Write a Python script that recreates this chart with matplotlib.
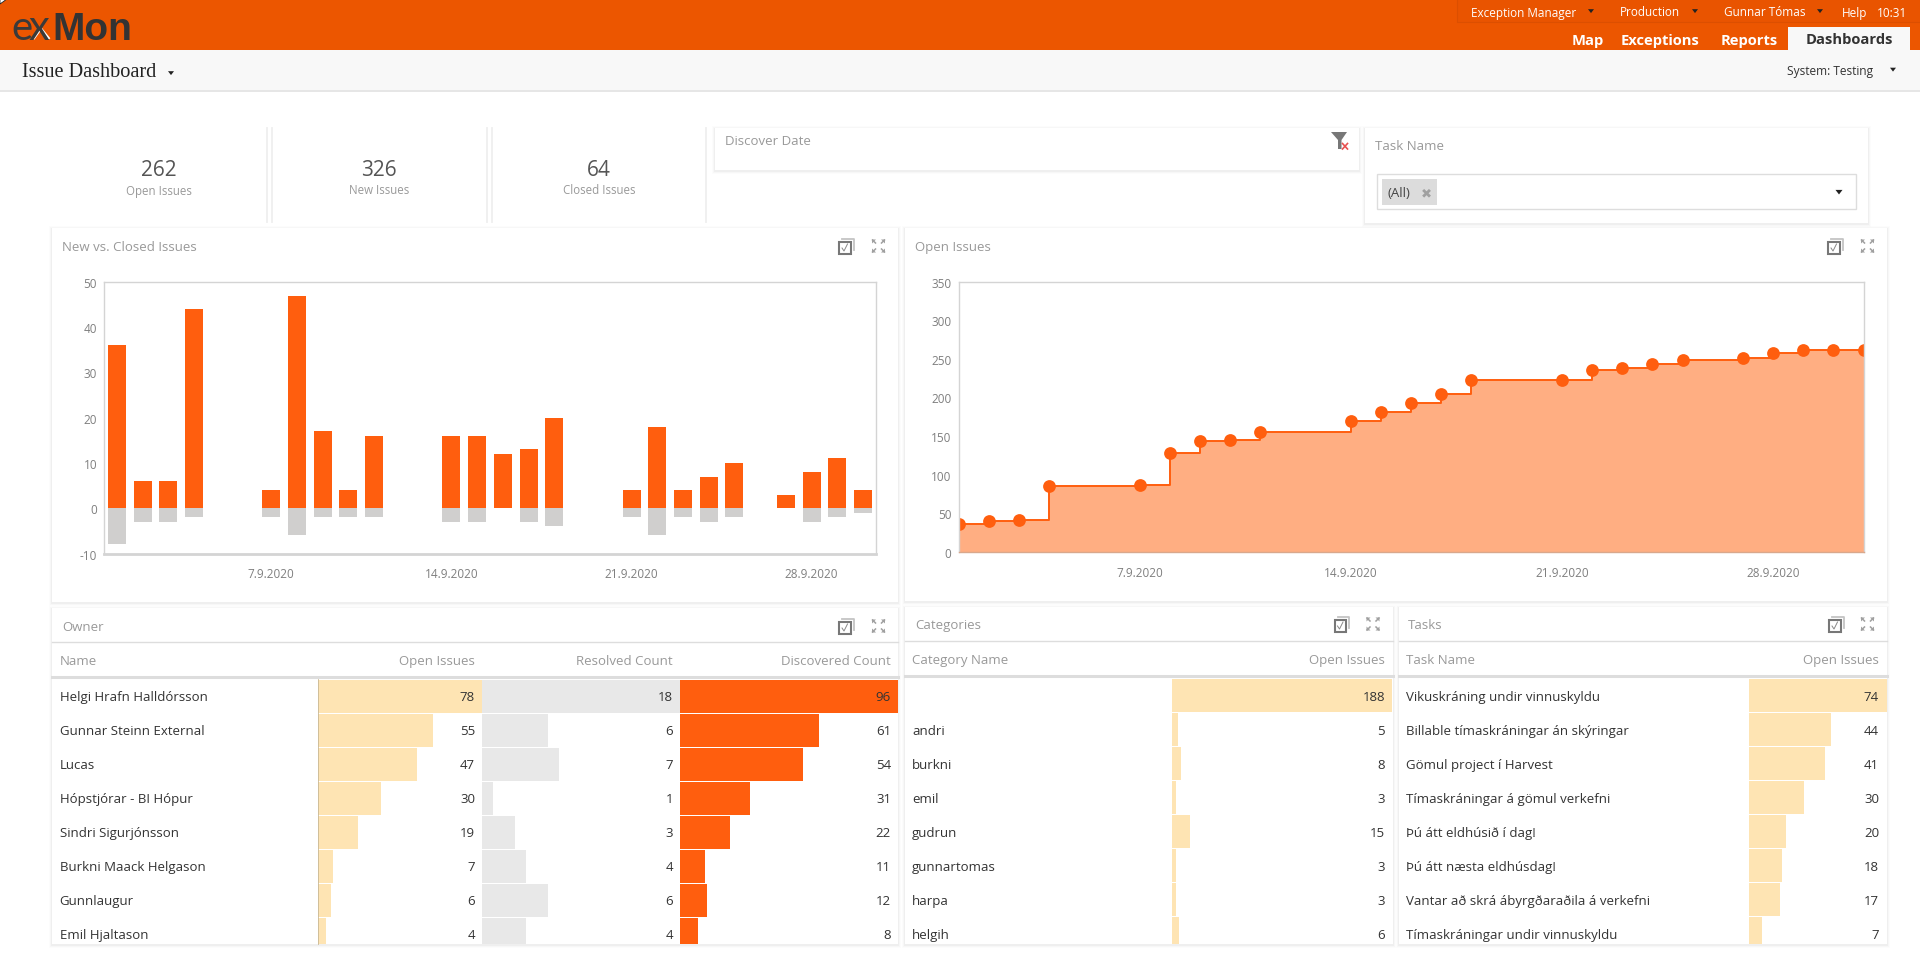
import matplotlib
matplotlib.use("Agg")
import matplotlib.pyplot as plt
from matplotlib.patches import Rectangle, Polygon

plt.rcParams["font.family"] = ["Open Sans", "DejaVu Sans"]
plt.rcParams["axes.unicode_minus"] = False

W, H = 1920, 979
ORANGE = "#ff5e0e"
HEADER = "#ec5600"
CREAM = "#fee4b3"
LIGHT_GREY = "#e8e8e8"
BAR_GREY = "#d0cfce"
AREA = "#ffae82"
GRID = "#d4d4d4"
MUTED = "#999999"
DARK = "#333333"

# new vs closed
bar_days = [1, 2, 3, 4, 7, 8, 9, 10, 11, 14, 15, 16, 17, 18, 21, 22, 23, 24, 25, 27, 28, 29, 30]
new_issues = [36, 6, 6, 44, 4, 47, 17, 4, 16, 16, 16, 12, 13, 20, 4, 18, 4, 7, 10, 3, 8, 11, 4]
closed_issues = [8, 3, 3, 2, 2, 6, 2, 2, 2, 3, 3, 0, 3, 4, 2, 6, 2, 3, 2, 0, 3, 2, 1]

# open issues over time
open_days = [1, 2, 3, 4, 7, 8, 9, 10, 11, 14, 15, 16, 17, 18, 21, 22, 23, 24, 25, 27, 28, 29, 30, 31]
open_values = [36, 40, 42, 85, 87, 128, 144, 145, 155, 170, 181, 193, 205, 222, 222, 236, 238, 243, 248, 251, 257, 262, 262, 262]

tick_days = [7, 14, 21, 28]
tick_labels = ["7.9.2020", "14.9.2020", "21.9.2020", "28.9.2020"]

owner_names = ["Helgi Hrafn Halldórsson", "Gunnar Steinn External", "Lucas", "Hópstjórar - BI Hópur",
               "Sindri Sigurjónsson", "Burkni Maack Helgason", "Gunnlaugur", "Emil Hjaltason"]
owner_open = [78, 55, 47, 30, 19, 7, 6, 4]
owner_resolved = [18, 6, 7, 1, 3, 4, 6, 4]
owner_discovered = [96, 61, 54, 31, 22, 11, 12, 8]

category_names = ["", "andri", "burkni", "emil", "gudrun", "gunnartomas", "harpa", "helgih"]
category_open = [188, 5, 8, 3, 15, 3, 3, 6]

task_names = ["Vikuskráning undir vinnuskyldu", "Billable tímaskráningar án skýringar",
              "Gömul project í Harvest", "Tímaskráningar á gömul verkefni", "Þú átt eldhúsið í dag!",
              "Þú átt næsta eldhúsdag!", "Vantar að skrá ábyrgðaraðila á verkefni",
              "Tímaskráningar undir vinnuskyldu"]
task_open = [74, 44, 41, 30, 20, 18, 17, 7]

kpi_values = ["262", "326", "64"]
kpi_labels = ["Open Issues", "New Issues", "Closed Issues"]


def px_axes(fig, left, top, right, bottom, zorder=1):
    """Axes placed with screenshot pixel edges."""
    return fig.add_axes([left / W, 1 - bottom / H, (right - left) / W, (bottom - top) / H], zorder=zorder)


def panel(ax, left, top, right, bottom):
    # faint shadow, then the card
    for grow, alpha in [(3, 0.012), (2, 0.018), (1, 0.03)]:
        ax.add_patch(Rectangle((left - grow, top - grow + 1), right - left + 2 * grow, bottom - top + 2 * grow,
                               fc="#000000", ec="none", alpha=alpha))
    ax.add_patch(Rectangle((left, top), right - left, bottom - top, fc="white", ec="none"))


def triangle(ax, x, y, size=3.5, color="#222222"):
    ax.add_patch(Polygon([(x - size, y - size * 0.6), (x + size, y - size * 0.6), (x, y + size * 0.7)],
                         fc=color, ec="none"))


def panel_icons(ax, x1, x2, y):
    c = "#777777"
    ax.plot([x1 - 3, x1 + 8.5, x1 + 8.5], [y - 7.5, y - 7.5, y + 4], color="#c4c4c4", lw=1.3)
    ax.add_patch(Rectangle((x1 - 6, y - 4.5), 11.5, 12.5, fc="white", ec=c, lw=1.5))
    ax.plot([x1 - 3, x1 - 1, x1 + 2.5], [y + 2, y + 5, y - 2], color="#888888", lw=0.7)
    for sx in (-1, 1):
        for sy in (-1, 1):
            ax.add_patch(Polygon([(x2 + sx * 6.5, y + sy * 6.5), (x2 + sx * 2.5, y + sy * 6.5),
                                  (x2 + sx * 6.5, y + sy * 2.5)], fc="#a0a0a0", ec="none"))
            ax.plot([x2 + sx * 3, x2 + sx * 6], [y + sy * 3, y + sy * 6], color="#a0a0a0", lw=1.1)


def table_bars(fig, left, right, values, color, top=680, bottom=945):
    ax = px_axes(fig, left, top, right, bottom)
    rows = list(range(len(values)))
    ax.barh(rows, values, height=33 / 34, color=color)
    ax.set_xlim(0, max(values))
    ax.set_ylim(-0.5 + (bottom - top) / 34, -0.5)
    ax.axis("off")
    return ax


fig = plt.figure(figsize=(W / 100, H / 100), dpi=100, facecolor="white")
bg = px_axes(fig, 0, 0, W, H, zorder=0)
bg.set_xlim(0, W)
bg.set_ylim(H, 0)
bg.axis("off")
fg = px_axes(fig, 0, 0, W, H, zorder=3)
fg.set_xlim(0, W)
fg.set_ylim(H, 0)
fg.axis("off")


def label(x, y, s, size=9.5, color=DARK, ha="left", **kw):
    # +1.5 puts the x-height centre where the screenshot has it
    return fg.text(x, y + 1.5, s, fontsize=size, color=color, ha=ha, va="center", **kw)


# header bars
bg.add_patch(Rectangle((0, 0), W, 51, fc=HEADER, ec="none"))
bg.add_patch(Rectangle((1457, 0), W - 1457, 23, fc="#e95400", ec="none"))
bg.plot([1457, 1457, W], [0, 23, 23], color="#dc4f00", lw=0.8)
bg.add_patch(Rectangle((0, 51), W, 40, fc="#f8f8f8", ec="none"))
bg.plot([0, W], [91.5, 91.5], color="#e2e2e2", lw=1.2)
bg.add_patch(Rectangle((1788, 28), 122, 23, fc="#f8f8f8", ec="none"))
fg.add_patch(Polygon([(0, 0), (7, 0), (0, 5)], fc="white", ec="#222222", lw=0.6))

# logo
fg.text(11, 40, "e", fontsize=29, color="#3a3a3a", family="Lato", va="baseline", ha="left")
fg.text(29, 40, "x", fontsize=30, color="#3a3a3a", family="Lato", va="baseline", ha="left")
fg.plot([33.5, 41, 49.5], [40, 29.5, 40], color="white", lw=1.6, solid_capstyle="butt")
fg.text(52, 39.5, "Mon", fontsize=28, color="#333333", family="Liberation Sans", weight="bold", va="baseline", ha="left")

# top menu
for name, x, tri in [("Exception Manager", 1471, 1591), ("Production", 1620, 1695), ("Gunnar Tómas", 1724, 1820)]:
    label(x, 11.5, name, size=8.5, color="white")
    triangle(fg, tri, 12, 3)
label(1842, 12.5, "Help", size=8.5, color="white")
label(1877, 12, "10:31", size=8.5, color="white")
for name, x, col in [("Map", 1572, "white"), ("Exceptions", 1621, "white"), ("Reports", 1721, "white"), ("Dashboards", 1806, DARK)]:
    label(x, 39, name, size=10.6, color=col, weight="bold")

label(22.5, 71, "Issue Dashboard", size=14.6, color="#222222", family="Liberation Serif")
triangle(fg, 171, 74, 3)
label(1787, 70, "System: Testing", size=8.6)
triangle(fg, 1893, 70.5, 3)

# KPI row
for x in [267, 272, 487, 492, 706]:
    bg.plot([x, x], [129, 223], color="#efefef", lw=1.3)
for x, value, name in zip([159, 379, 599], kpi_values, kpi_labels):
    label(x, 169, value, size=15, color="#555555", ha="center")
    label(x, 189.5, name, size=8.3, color=MUTED, ha="center")

# filter cards
panel(bg, 715, 129, 1359, 171)
label(725, 140, "Discover Date", color=MUTED)
fg.add_patch(Polygon([(1331, 133), (1347, 133), (1341.5, 141), (1341.5, 150), (1338, 150), (1338, 141)], fc="#777777", ec="none"))
fg.plot([1342.5, 1347.5], [144.5, 150], color="#e85050", lw=1.2)
fg.plot([1342.5, 1347.5], [150, 144.5], color="#e85050", lw=1.2)
panel(bg, 1365, 129, 1868, 224)
label(1375, 145, "Task Name", color=MUTED)
bg.add_patch(Rectangle((1377, 175), 479, 35, fc="white", ec="#dddddd", lw=1))
bg.add_patch(Rectangle((1382, 180), 55, 26, fc="#dcdcdc", ec="none"))
label(1388, 192, "(All)", color="#444444")
label(1426.5, 192, "✖", size=9.5, color="#a0a0a0", ha="center", family="DejaVu Sans")
triangle(fg, 1839, 193, 3.5)

# panels
panel(bg, 52, 229, 898, 603)
panel(bg, 905, 229, 1887, 602)
panel(bg, 52, 609, 898, 945)
panel(bg, 905, 608, 1393, 945)
panel(bg, 1399, 608, 1887, 945)

label(62, 246, "New vs. Closed Issues", color=MUTED)
label(915, 246, "Open Issues", color=MUTED)
label(62, 626, "Owner", color=MUTED)
label(915, 624, "Categories", color=MUTED)
label(1408, 624, "Tasks", color=MUTED)
panel_icons(fg, 845, 878.5, 247)
panel_icons(fg, 1834, 1867.5, 247)
panel_icons(fg, 845, 878.5, 627)
panel_icons(fg, 1340.5, 1373, 625)
panel_icons(fg, 1835, 1867.5, 625)

# new vs closed chart
ax1 = px_axes(fig, 104, 283, 876, 554.5)
ax1.bar(bar_days, new_issues, width=0.7, color=ORANGE)
ax1.bar(bar_days, [-v for v in closed_issues], width=0.7, color=BAR_GREY)
ax1.set_xlim(0.5, 30.5)
ax1.set_ylim(-10, 50)
ax1.set_yticks([-10, 0, 10, 20, 30, 40, 50])

# open issues chart
ax2 = px_axes(fig, 958.5, 282.5, 1863.5, 553)
ax2.fill_between(open_days, open_values, step="post", color=AREA, lw=0)
ax2.plot(open_days, open_values, drawstyle="steps-post", color=ORANGE, lw=1.4)
ax2.plot(open_days, open_values, "o", color=ORANGE, ms=9.2, mew=0)
ax2.set_xlim(1, 31)
ax2.set_ylim(0, 350)
ax2.set_yticks([0, 50, 100, 150, 200, 250, 300, 350])

for ax in (ax1, ax2):
    ax.set_xticks(tick_days, tick_labels)
    ax.tick_params(length=0, labelsize=8.5, labelcolor="#7f7f7f", pad=5)
    ax.tick_params(axis="x", pad=10)
    for side in ax.spines.values():
        side.set_color(GRID)
        side.set_linewidth(1)
ax1.spines["bottom"].set_linewidth(2)
ax2.spines["bottom"].set_color("#d9a88c")

# tables
for x0, x1, y_line, y_thick in [(52, 898, 643, 678), (905, 1393, 642, 677), (1399, 1887, 642, 677)]:
    bg.plot([x0, x1], [y_line, y_line], color="#dddddd", lw=1)
    bg.plot([x0, x1], [y_thick, y_thick], color="#dddddd", lw=2.2)

table_bars(fig, 318, 481.5, owner_open, CREAM)
table_bars(fig, 482, 679.5, owner_resolved, LIGHT_GREY)
table_bars(fig, 680, 898, owner_discovered, ORANGE)
fg.plot([318, 318], [680, 945], color="#c9b896", lw=0.6)
table_bars(fig, 1172, 1392, category_open, CREAM, top=679)
table_bars(fig, 1748.5, 1886.5, task_open, CREAM, top=679)

label(59.5, 660, "Name", color=MUTED)
label(475, 660, "Open Issues", color=MUTED, ha="right")
label(673, 660, "Resolved Count", color=MUTED, ha="right")
label(891, 660, "Discovered Count", color=MUTED, ha="right")
label(912, 659, "Category Name", color=MUTED)
label(1385, 659, "Open Issues", color=MUTED, ha="right")
label(1406, 659, "Task Name", color=MUTED)
label(1879, 659, "Open Issues", color=MUTED, ha="right")

for i, name in enumerate(owner_names):
    y = 696.5 + 34 * i
    label(59.5, y, name)
    label(475, y, owner_open[i], ha="right")
    label(673, y, owner_resolved[i], ha="right")
    label(891, y, owner_discovered[i], ha="right")
for i, name in enumerate(category_names):
    y = 696 + 34 * i
    label(912, y, name)
    label(1385, y, category_open[i], ha="right")
for i, name in enumerate(task_names):
    y = 696 + 34 * i
    label(1406, y, name)
    label(1879, y, task_open[i], ha="right")

fig.savefig("out.png", dpi=100)
